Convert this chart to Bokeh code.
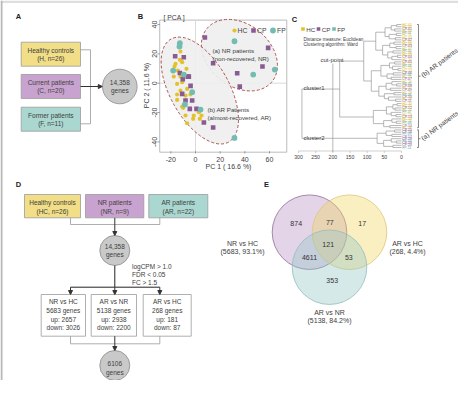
import numpy as np
from bokeh.plotting import figure
from bokeh.models import Range1d, Arrow, NormalHead
from bokeh.embed import file_html
from bokeh.resources import INLINE
from bokeh.core.properties import value

# ---------------- data ----------------
# Panel A / D groups
groups_a = ["Healthy controls", "Current patients", "Former patients"]
groups_a_n = ["(H, n=26)", "(C, n=20)", "(F, n=11)"]
groups_d = ["Healthy controls", "NR patients", "AR patients"]
groups_d_n = ["(HC, n=26)", "(NR, n=9)", "(AR, n=22)"]
total_genes = "14,358"
filters = ["logCPM > 1.0", "FDR < 0.05", "FC > 1.5"]
comparisons = ["NR vs HC", "AR vs NR", "AR vs HC"]
comp_genes = [5683, 5138, 268]
comp_up = [2657, 2938, 181]
comp_down = [3026, 2200, 87]
union_genes = 6106

# Panel B PCA scores
hc_x = [-12.2, -16.2, -12.7, -10.8, -17.0, -14.3, -12.2, -17.6, -7.3, -14.9, -6.8, -12.2, -14.9,
        -8.1, -4.1, -14.9, -10.0, -1.4, -8.1, -1.9, 4.9, 3.5, -6.8, -10.8, 2.7, -10.8]
hc_y = [21.6, 13.2, 15.9, 14.3, 11.4, 8.6, 4.5, 4.5, 9.8, -0.5, -3.9, -5.0, -7.7,
        -8.4, -7.7, -11.4, -16.8, -22.0, -22.0, -24.3, -22.0, -24.3, -27.3, -15.9, -19.8, 0.7]
cp_x = [7.6, -16.5, -9.5, 14.3, 58.9, 33.8, 54.3, 35.9, -12.7, -10.3, -5.4, -4.0, -10.8, -2.7,
        -4.6, 0.8, 6.8, 14.3, -8.1, -6.2]
cp_y = [31.1, 18.4, 17.7, 13.6, 24.1, 6.8, 11.4, -2.3, 7.0, 2.7, 4.5, -1.8, -7.3, -11.8,
        -17.5, -17.5, -26.8, -30.2, -11.8, 4.5]
fp_x = [-12.7, -18.1, -9.5, -2.7, -8.6, 4.1, 31.6, 46.8, 64.3, 31.6, -13.0]
fp_y = [27.3, 8.6, 5.9, -6.1, -14.5, -18.0, 28.6, 5.9, 9.3, -37.3, 25.0]
pca_xticks = [-20, 0, 20, 40, 60]
pca_yticks = [-40, -20, 0, 20, 40]
pca_xlim = [-29, 74]
pca_ylim = [-47, 43]
ell_a = dict(cx=35.6, cy=19.1)
ell_b = dict(cx=3.5, cy=-5.0)

# Panel C dendrogram (merge heights, Ward / Euclidean)
T1 = (75,
      (48, (30, (14, "H01", "H02"), (20, "C01", "H03")), (36, (15, "F01", "H11"), (18, "H04", "C02"))),
      (55, (34, (22, "H05", "H06"), (16, "C03", "H07")), (40, (25, "F02", "H08"), (28, (12, "H09", "C04"), "H10"))))
T2 = (88,
      (60, (35, (20, "C05", "H12"), (26, "F03", (10, "H13", "H14"))), (42, (24, "C06", "F04"), (30, "H15", "C07"))),
      (66, (45, (28, "H16", (14, "F05", "C08")), (32, "H17", "C09")), (50, (22, "H18", "F06"), (38, "C10", (17, "H19", "C11")))))
B = (82,
     (44, (25, (13, "H20", "H21"), (19, "C12", "H22")), (30, "F07", (16, "H23", "C13"))),
     (52, (28, "H24", (15, "H25", "F08")), (34, "C14", "H26")))
NR = (71, (45, (20, "C15", "C16"), (28, "F09", "C17")), (52, (30, "C18", (15, "F10", "C19")), (25, "C20", "F11")))
tree = (290, (180, (110, T1, T2), B), NR)
n_ar_leaves = 48
dendro_ticks = [0, 50, 100, 150, 200, 250, 300]
cut_height = 200

# Panel E Venn
venn_sets = ["NR vs HC", "AR vs HC", "AR vs NR"]
venn_sizes = [5683, 268, 5138]
venn_pct = [93.1, 4.4, 84.2]
venn_counts = {"NR": 874, "NR_ARHC": 77, "ARHC": 17, "ALL": 121, "NR_ARNR": 4611, "ARHC_ARNR": 53, "ARNR": 353}

# ---------------- styling ----------------
FONT = "Liberation Sans"
TXT = "#404040"
YEL, PUR, TEA = "#f1de86", "#c9a3cf", "#aad8d1"
HC_C, CP_C, FP_C = "#e3c22b", "#8a5a93", "#72bcb1"

W, H = 458, 380
p = figure(width=W, height=H, x_range=Range1d(0, W), y_range=Range1d(H, 0),
           output_backend="svg", toolbar_location=None, min_border=0,
           x_axis_type=None, y_axis_type=None)
p.grid.visible = False
p.outline_line_color = None
p.background_fill_color = "white"
p.border_fill_color = "white"


def sub_range(p0, p1, v0, v1, P0, P1):
    k = (v1 - v0) / (p1 - p0)
    return Range1d(start=v0 + (P0 - p0) * k, end=v0 + (P1 - p0) * k)


p.extra_x_ranges = {"pcx": sub_range(195, 269, 0, 60, 0, W),
                    "dx": sub_range(401, 298, 0, 300, 0, W)}
p.extra_y_ranges = {"pcy": sub_range(82.7, 24, 0, 40, H, 0),
                    "dy": sub_range(24, 147, 0, 56, H, 0)}


def txt(x, y, s, size=6.5, color=TXT, align="center", baseline="middle", angle=0.0,
        style="normal", xr="default", yr="default"):
    p.text(x=x if isinstance(x, list) else [x], y=y if isinstance(y, list) else [y],
           text=s if isinstance(s, list) else [s],
           text_font=value(FONT), text_font_size=f"{size}px", text_color=color,
           text_align=align, text_baseline=baseline, angle=angle, text_font_style=style,
           x_range_name=xr, y_range_name=yr)


def seg(x0, y0, x1, y1, color="#999999", width=0.8, xr="default", yr="default", dash="solid"):
    p.segment(x0=x0, y0=y0, x1=x1, y1=y1, line_color=color, line_width=width,
              x_range_name=xr, y_range_name=yr, line_dash=dash)


def arrow(x0, y0, x1, y1):
    p.add_layout(Arrow(end=NormalHead(size=4, fill_color="#333333", line_color="#333333"),
                       x_start=x0, y_start=y0, x_end=x1, y_end=y1,
                       line_color="#333333", line_width=1))


def box(l, r, t, b, fill):
    p.quad(left=[l], right=[r], top=[t], bottom=[b], fill_color=fill, line_color="#9a9a9a", line_width=0.8)


# page frame of the original figure
p.quad(left=[0], right=[W], top=[0], bottom=[2.5], fill_color="#dedede", line_color=None)
p.quad(left=[0], right=[2], top=[0], bottom=[H], fill_color="#b8b8b8", line_color=None)

# ---------------- Panel A ----------------
txt(18, 16, "A", size=7.5, color="#222", style="bold")
a_tops = [41.7, 74, 106.7]
a_fill = [YEL, PUR, TEA]
for i in range(3):
    box(20.7, 80, a_tops[i], a_tops[i] + 24, a_fill[i])
    txt(50.3, a_tops[i] + 7.8, groups_a[i])
    txt(50.3, a_tops[i] + 16, groups_a_n[i])
seg([80, 90, 80], [49.3, 49.3, 123.3], [90, 90, 90], [49.3, 123.3, 123.3])
arrow(80, 86, 101.8, 86)
p.circle(x=[119.3], y=[86], radius=17.3, fill_color="#c9c9c9", line_color="#8a8a8a", line_width=0.8)
txt(119.3, 81.7, total_genes)
txt(119.3, 90, "genes")

# ---------------- Panel B (PCA) ----------------
txt(140, 16, "B", size=7.5, color="#222", style="bold")
p.quad(left=[pca_xlim[0]], right=[pca_xlim[1]], bottom=[pca_ylim[0]], top=[pca_ylim[1]],
       fill_color="white", line_color="#aaaaaa", line_width=0.8, x_range_name="pcx", y_range_name="pcy")
seg([0, pca_xlim[0]], [pca_ylim[0], 0], [0, pca_xlim[1]], [pca_ylim[1], 0], color="#d0d0d0",
    width=0.8, xr="pcx", yr="pcy")
p.ellipse(x=[ell_a["cx"]], y=[ell_a["cy"]], width=84, height=62, width_units="screen",
          height_units="screen", angle=-0.68, fill_color="#eeeeee", fill_alpha=0.9,
          line_color="#a0453f", line_dash="3 2", line_width=0.9, x_range_name="pcx", y_range_name="pcy")
p.ellipse(x=[ell_b["cx"]], y=[ell_b["cy"]], width=118, height=59, width_units="screen",
          height_units="screen", angle=-1.06, fill_color="#eeeeee", fill_alpha=0.9,
          line_color="#a0453f", line_dash="3 2", line_width=0.9, x_range_name="pcx", y_range_name="pcy")
p.scatter(x=hc_x, y=hc_y, marker="circle", size=4.2, fill_color=HC_C, line_color=None,
          x_range_name="pcx", y_range_name="pcy")
p.scatter(x=cp_x, y=cp_y, marker="square", size=4.6, fill_color=CP_C, line_color=None,
          x_range_name="pcx", y_range_name="pcy")
p.scatter(x=fp_x, y=fp_y, marker="circle", size=5.8, fill_color=FP_C, line_color=None,
          x_range_name="pcx", y_range_name="pcy")
txt(212, 50, "(a) NR patients", size=6.2, align="left")
txt(212, 57.6, "(non-recovered, NR)", size=6.2, align="left")
txt(207, 108.5, "(b) AR Patients", size=6.2, align="left")
txt(207, 117, "(almost-recovered, AR)", size=6.2, align="left")
# axes
p.segment(x0=pca_xticks, x1=pca_xticks, y0=[150.7] * 5, y1=[153] * 5, line_color="#888", line_width=0.8,
          x_range_name="pcx")
txt(pca_xticks, [158.5] * 5, [str(t) for t in pca_xticks], size=7, xr="pcx")
p.segment(y0=pca_yticks, y1=pca_yticks, x0=[159.3] * 5, x1=[157] * 5, line_color="#888", line_width=0.8,
          y_range_name="pcy")
txt([153.5] * 5, pca_yticks, [str(t) for t in pca_yticks], size=7, angle=np.pi / 2, yr="pcy")
txt(228, 166, "PC 1 ( 16.6 %)", size=7)
txt(146, 85, "PC 2 ( 11.6 %)", size=7, angle=np.pi / 2)
txt(163, 17, "[ PCA ]", size=6.8, align="left")
# legend
p.scatter(x=[234], y=[30], marker="circle", size=4.2, fill_color=HC_C, line_color=None)
txt(237, 30, "HC", size=6.8, align="left")
p.scatter(x=[253], y=[30], marker="square", size=4.6, fill_color=CP_C, line_color=None)
txt(256.5, 30, "CP", size=6.8, align="left")
p.scatter(x=[272.5], y=[30], marker="circle", size=5.8, fill_color=FP_C, line_color=None)
txt(276.5, 30, "FP", size=6.8, align="left")

# ---------------- Panel C (dendrogram) ----------------
txt(294, 19, "C", size=7.5, color="#222", style="bold")
sx0, sy0, sx1, sy1 = [], [], [], []
leaves = []


def layout(node, counter):
    if isinstance(node, str):
        i = counter[0]
        counter[0] += 1
        leaves.append((node, i))
        return 0.0, float(i)
    h, a, b = node
    ha, ya = layout(a, counter)
    hb, yb = layout(b, counter)
    sx0.extend([h, ha, hb]); sx1.extend([h, h, h])
    sy0.extend([ya, ya, yb]); sy1.extend([yb, ya, yb])
    return h, (ya + yb) / 2


root_h, root_y = layout(tree, [0])
seg(sx0, sy0, sx1, sy1, color="#9a9a9a", width=0.7, xr="dx", yr="dy")
leaf_col = {"H": "#d9b820", "C": "#7d4a8a", "F": "#4fa89c"}
leaf_grp = {"H": "HC", "C": "CP", "F": "FP"}
p.text(x=[-2] * len(leaves), y=[i for _, i in leaves],
       text=[f"{leaf_grp[n[0]]}-{n[1:]}" for n, _ in leaves],
       text_color=[leaf_col[n[0]] for n, _ in leaves], text_font=value(FONT), text_font_size="3.4px",
       text_align="left", text_baseline="middle", x_range_name="dx", y_range_name="dy")
# axis
seg([0], [150.5], [300], [150.5], color="#bbbbbb", width=0.7, xr="dx")
p.segment(x0=dendro_ticks, x1=dendro_ticks, y0=[150.5] * 7, y1=[152.5] * 7, line_color="#bbbbbb",
          line_width=0.7, x_range_name="dx")
txt(dendro_ticks, [156] * 7, [str(t) for t in dendro_ticks], size=5.2, xr="dx")
# cut point
seg([cut_height], [63], [cut_height], [151.5], color="#9a9a9a", width=0.7, xr="dx")
txt(331.5, 59, "cut-point", size=6)
txt(303, 87.5, "cluster1", size=6, align="left")
txt(303, 137.5, "cluster2", size=6, align="left")
# legend
for xx, col, lab in [(302.5, HC_C, "HC"), (318, CP_C, "CP"), (333.5, FP_C, "FP")]:
    p.scatter(x=[xx], y=[28.5], marker="square", size=3.6, fill_color=col, line_color=None)
    txt(xx + 3.2, 28.5, lab, size=6.2, align="left")
txt(303, 38.5, "Distance measure: Euclidean", size=4.6, align="left")
txt(303, 43.5, "Clustering algorithm: Ward", size=4.6, align="left")
# brackets
ar_y = [0, n_ar_leaves - 1]
nr_y = [n_ar_leaves, len(leaves) - 1]
for yy in (ar_y, nr_y):
    seg([418, 416.5, 416.5, 418], [yy[0], yy[0], yy[1], (yy[0] + yy[1]) / 2],
        [418, 418, 418, 420], [yy[1], yy[0], yy[1], (yy[0] + yy[1]) / 2],
        color="#555555", width=0.7, yr="dy")
txt(439, 62, "(b) AR patients", size=6.6, angle=0.64)
txt(439, 125, "(a) NR patients", size=6.6, angle=0.64)

# ---------------- Panel D ----------------
txt(18, 184, "D", size=7.5, color="#222", style="bold")
d_lr = [(24, 80), (85, 143.3), (148.3, 207.3)]
d_fill = [YEL, PUR, TEA]
for i in range(3):
    l, r = d_lr[i]
    box(l, r, 194, 217.3, d_fill[i])
    txt((l + r) / 2, 202.3, groups_d[i])
    txt((l + r) / 2, 210.7, groups_d_n[i])
seg([70, 70, 159.3], [217.3, 224, 224], [70, 159.3, 159.3], [224, 224, 217.3])
arrow(114.3, 217.3, 114.3, 235)
p.circle(x=[114.3], y=[250], radius=15, fill_color="#c9c9c9", line_color="#8a8a8a", line_width=0.8)
txt(114.3, 245.5, total_genes)
txt(114.3, 254, "genes")
for k, f in enumerate(filters):
    txt(131.5, 265.7 + 8.3 * k, f, align="left")
seg([114.3, 70], [265, 286.7], [114.3, 159.3], [286.7, 286.7], color="#222222", width=1)
for xx in (70, 114.3, 159.3):
    arrow(xx, 286.7, xx, 294)
r_lr = [(40.7, 85), (90.7, 136), (142.7, 190.7)]
for i in range(3):
    l, r = r_lr[i]
    box(l, r, 294, 335.7, "white")
    cx = (l + r) / 2
    lines = [comparisons[i], f"{comp_genes[i]} genes", f"up: {comp_up[i]}", f"down: {comp_down[i]}"]
    for k, s in enumerate(lines):
        txt(cx, 301.3 + 8.7 * k, s)
seg([70, 70, 159.3], [335.7, 343.3, 343.3], [70, 159.3, 159.3], [343.3, 343.3, 335.7])
arrow(114.3, 335.7, 114.3, 350)
p.circle(x=[114.3], y=[365], radius=15, fill_color="#c9c9c9", line_color="#8a8a8a", line_width=0.8)
txt(114.3, 362.5, str(union_genes))
txt(114.3, 371.5, "genes")

# ---------------- Panel E (Venn) ----------------
txt(266, 184, "E", size=7.5, color="#222", style="bold")
p.circle(x=[309], y=[231.7], radius=37.3, fill_color="#b98fc2", fill_alpha=0.38, line_color="#8f6f98", line_width=0.8)
p.circle(x=[349], y=[231.7], radius=37.3, fill_color="#f0d45c", fill_alpha=0.38, line_color="#dcc67a", line_width=0.8)
p.circle(x=[329], y=[266.7], radius=37.3, fill_color="#92c6c6", fill_alpha=0.38, line_color="#94bcbc", line_width=0.8)
pos = {"NR": (295.7, 222.7), "NR_ARHC": (329.3, 221.7), "ARHC": (361.7, 222.7), "ALL": (327.7, 244),
       "NR_ARNR": (309, 257.3), "ARHC_ARNR": (348.3, 256.7), "ARNR": (331.7, 280)}
for k, v in venn_counts.items():
    txt(pos[k][0], pos[k][1], str(v), size=7, color="#333")
lab_pos = [(242, 242.7), (407, 242.7), (329, 311.7)]
for i in range(3):
    txt(lab_pos[i][0], lab_pos[i][1], venn_sets[i], size=7)
    txt(lab_pos[i][0], lab_pos[i][1] + 8.5, f"({venn_sizes[i]}, {venn_pct[i]}%)", size=7)

open("out.html", "w").write(file_html(p, INLINE))
